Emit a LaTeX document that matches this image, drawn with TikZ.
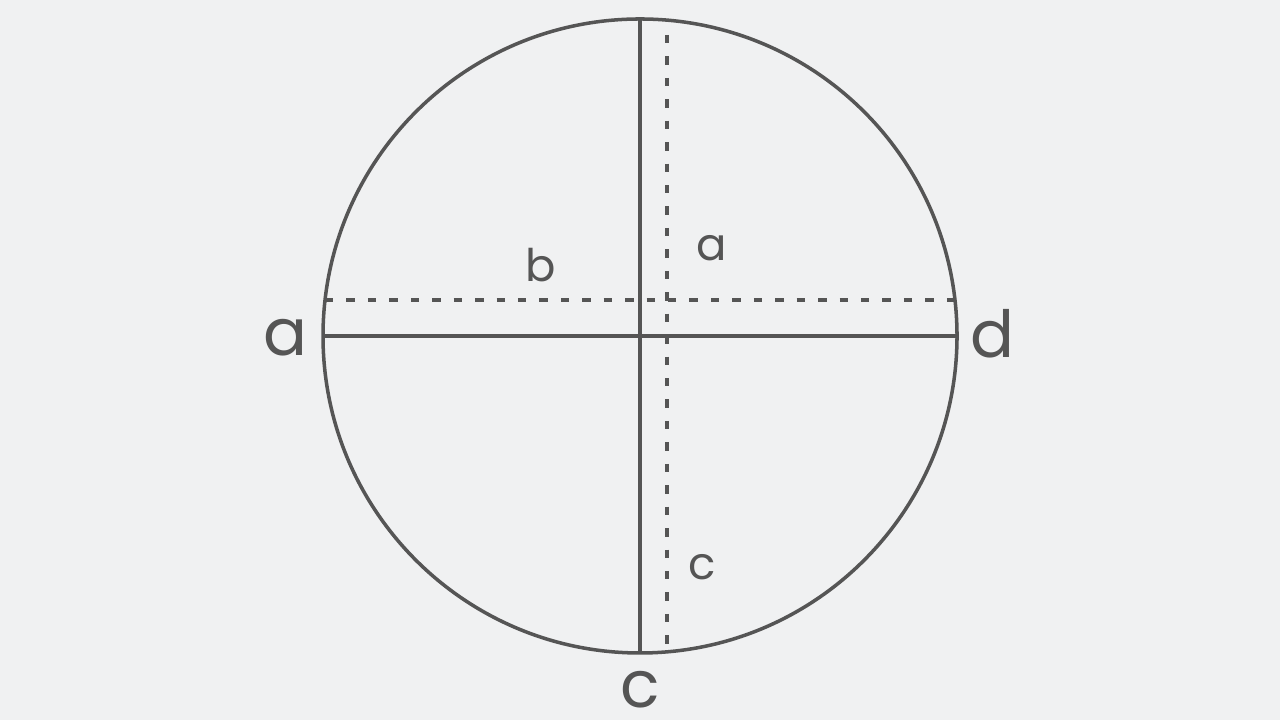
\documentclass[tikz,border=0pt]{standalone}
\usepackage{fontspec}
\setmainfont{Poppins}
\definecolor{fondo}{HTML}{F0F1F2}
\definecolor{trazo}{HTML}{555555}
\begin{document}
\begin{tikzpicture}[
    linea/.style={draw=trazo,line width=1pt},
    guia/.style={draw=trazo,line width=0.9pt,dash pattern=on 2.4pt off 3.7pt},
    etiq/.style={text=trazo,font=\fontsize{18.5}{21}\selectfont,inner sep=0pt},
    etiqc/.style={text=trazo,font=\fontsize{12.8}{15}\selectfont,inner sep=0pt}]
            \fill[fondo] (0,0) rectangle (12.8,7.2);
            \useasboundingbox (0,0) rectangle (12.8,7.2);
            \coordinate (O) at (6.40,3.84);
            \draw[linea] (O) circle [radius=3.17]; % circulo
            \coordinate (izq) at (3.23,3.84);
            \coordinate (der) at (9.57,3.84);
            \coordinate (arr) at (6.40,7.01);
            \coordinate (aba) at (6.40,0.67);
            \draw[linea] (izq) -- (der); % eje horizontal
            \draw[linea] (arr) -- (aba); % eje vertical
            \coordinate (dizq) at (3.25,4.20);
            \coordinate (dder) at (9.55,4.20);
            \coordinate (darr) at (6.67,6.85);
            \coordinate (daba) at (6.67,0.72);
            \draw[guia] (dizq) -- (dder);
            \draw[guia] (darr) -- (daba);
            \node[etiq] (la) at (2.85,3.82) {a};
            \node[etiq] (ld) at (9.92,3.86) {d};
            \node[etiq] (lc) at (6.40,0.30) {c};
            \node[etiqc] (lb) at (5.41,4.55) {b};
            \node[etiqc] (la2) at (7.12,4.72) {a};
            \node[etiqc] (lc2) at (7.02,1.53) {c};
\end{tikzpicture}
\end{document}
